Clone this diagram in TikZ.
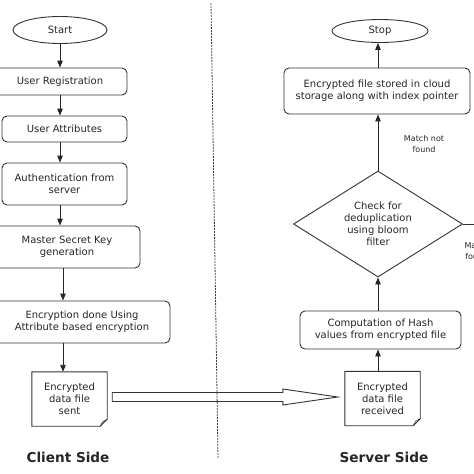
\documentclass[tikz,border=0pt]{standalone}
\usepackage{fontspec}
\setmainfont{DejaVu Sans}
\usetikzlibrary{arrows.meta,shapes,positioning,calc}
\tikzset{
box/.style={draw=black!80,line width=0.9pt,rounded corners=5pt,align=center,inner sep=0pt,minimum width=#1},
term/.style={draw=black!80,line width=0.9pt,ellipse,inner sep=0pt,minimum width=#1},
doc/.style={inner sep=0pt,align=center,minimum width=75pt,minimum height=54pt},
arr/.style={-{Triangle[length=7pt,width=5.5pt]},line width=0.9pt,draw=black!85},
lbl/.style={font=\fontsize{8}{11}\selectfont,align=center},
side/.style={font=\bfseries\fontsize{13.6}{16}\selectfont},
}
\begin{document}
\begin{tikzpicture}[x=1pt,y=-1pt,font=\fontsize{10}{12}\selectfont,text=black!85]
  \useasboundingbox (0,0) rectangle (474,474);
  % client side
  \node[term=94pt,minimum height=27pt] (start) at (60,30) {Start};
  \node[box=134pt,minimum height=27pt] (reg) at (60,81.5) {User Registration};
  \node[box=125pt,minimum height=26pt] (attr) at (64.5,129) {User Attributes};
  \node[box=125pt,minimum height=42pt] (auth) at (64.5,184) {Authentication from\\server};
  \node[box=146pt,minimum height=42pt] (msk) at (67,247) {Master Secret Key\\generation};
  \node[box=176pt,minimum height=42pt] (enc) at (82,322) {Encryption done Using\\Attribute based encryption};
  \node[doc] (sent) at (69.5,399) {Encrypted\\data file\\sent};
  \node[side] (client) at (68,457) {Client Side};
  % server side
  \node[term=96pt,minimum height=23pt] (stop) at (380,31) {Stop};
  \node[box=186pt,minimum height=46pt] (store) at (377,91) {Encrypted file stored in cloud\\storage along with index pointer};
  \node[draw=black!80,line width=0.9pt,diamond,aspect=1.6,inner sep=0pt,minimum width=169pt,minimum height=106pt,align=center] (dedup) at (378,224) {Check for\\deduplication\\using bloom\\filter};
  \node[box=161pt,minimum height=38pt] (hash) at (380.5,330) {Computation of Hash\\values from encrypted file};
  \node[doc] (recv) at (382.5,398.5) {Encrypted\\data file\\received};
  \node[side] (server) at (384,457) {Server Side};
  \node[lbl] (nomatch) at (424,144) {Match not\\found};
  \node[lbl,anchor=west] (match) at (461,251.5) {Match\\found};
  \coordinate (out) at (480,224);

  % document shapes
  \foreach \d in {sent,recv}{
    \draw[draw=black!80,line width=0.9pt] (\d.north west) -- (\d.north east) -- ([yshift=7pt]\d.south east)
      -- ([xshift=-7pt]\d.south east) -- (\d.south west) -- cycle;
    \draw[draw=black!80,line width=0.6pt] ([xshift=-7pt]\d.south east) -- ([xshift=-4.5pt,yshift=4.5pt]\d.south east)
      -- ([yshift=7pt]\d.south east);
  }

  \draw[dash pattern=on 1.8pt off 1.2pt,black!75,line width=0.8pt] (211,3) -- (218,458);

  \draw[arr] (start) -- (start |- reg.north);
  \draw[arr] (reg) -- (reg |- attr.north);
  \draw[arr] (reg |- attr.south) -- (reg |- auth.north);
  \draw[arr] (reg |- auth.south) -- (reg |- msk.north);
  \draw[arr] ([xshift=-4pt]msk.south) -- ([xshift=-4pt]msk.south |- enc.north);
  \draw[arr] ([xshift=-4pt]msk.south |- enc.south) -- ([xshift=-4pt]msk.south |- sent.north);

  \draw[arr] (dedup |- recv.north) -- (dedup |- hash.south);
  \draw[arr] (dedup |- hash.north) -- (dedup.south);
  \draw[arr] (dedup.north) -- (dedup |- store.south);
  \draw[arr] (dedup |- store.north) -- (dedup |- stop.south);
  \draw[line width=0.9pt,black!80] (dedup.east) -- (out);

  % block arrow
  \draw[draw=black!80,line width=0.9pt] let \p1=($(sent.east)+(5,-2)$), \p2=($(recv.west)+(-7,0)$) in
    (\x1,\y1+4.5pt) -- (\x2-55pt,\y1+4.5pt) -- (\x2-55pt,\y1+8pt) -- (\x2,\y1)
    -- (\x2-55pt,\y1-8pt) -- (\x2-55pt,\y1-4.5pt) -- (\x1,\y1-4.5pt) -- cycle;
\end{tikzpicture}
\end{document}
